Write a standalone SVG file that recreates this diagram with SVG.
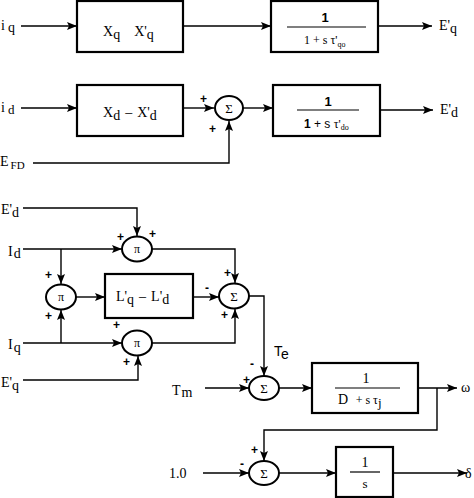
<svg xmlns="http://www.w3.org/2000/svg" width="474" height="498" viewBox="0 0 474 498">
<style>
.box{fill:#fff;stroke:#000;stroke-width:2.2}
.node{fill:#fff;stroke:#000;stroke-width:2}
.ln{fill:none;stroke:#000;stroke-width:1.4}
.fr{stroke:#000;stroke-width:1.2}
text{font-family:"Liberation Serif","Times New Roman",serif;fill:#000}
.lb{font-size:14px}
.sm{font-size:10px}
.sg text{font-size:12px;font-weight:bold;font-family:"Liberation Sans",Arial,sans-serif;fill:#000}
.sn{font-family:"Liberation Sans",Arial,sans-serif}
</style>
<defs>
<marker id="ar" viewBox="0 0 10 8" refX="10" refY="4" markerWidth="10" markerHeight="8" markerUnits="userSpaceOnUse" orient="auto">
<path d="M0,0 L10,4 L0,8 L2,4 Z" fill="#000"/>
</marker>
</defs>
<rect width="474" height="498" fill="#fff"/>

<g id="connectors">
<line class="ln" x1="21" y1="26" x2="77" y2="26" marker-end="url(#ar)"/>
<line class="ln" x1="183" y1="26" x2="271" y2="26" marker-end="url(#ar)"/>
<line class="ln" x1="378" y1="26" x2="432" y2="26" marker-end="url(#ar)"/>
<line class="ln" x1="21" y1="108" x2="77" y2="108" marker-end="url(#ar)"/>
<line class="ln" x1="183" y1="108" x2="214" y2="108" marker-end="url(#ar)"/>
<polyline class="ln" points="33,163 229,163 229,121" marker-end="url(#ar)"/>
<line class="ln" x1="243" y1="108" x2="273" y2="108" marker-end="url(#ar)"/>
<line class="ln" x1="380" y1="110" x2="433" y2="110" marker-end="url(#ar)"/>

<polyline class="ln" points="23,208 137,208 137,236" marker-end="url(#ar)"/>
<line class="ln" x1="23" y1="249" x2="122" y2="249" marker-end="url(#ar)"/>
<polyline class="ln" points="61,249 61,284" marker-end="url(#ar)"/>
<line class="ln" x1="23" y1="343" x2="122" y2="343" marker-end="url(#ar)"/>
<polyline class="ln" points="61,343 61,310" marker-end="url(#ar)"/>
<polyline class="ln" points="23,380 138,380 138,356" marker-end="url(#ar)"/>
<line class="ln" x1="76" y1="297" x2="105" y2="297" marker-end="url(#ar)"/>
<line class="ln" x1="193" y1="297" x2="219" y2="297" marker-end="url(#ar)"/>
<polyline class="ln" points="152,249 235,249 235,283" marker-end="url(#ar)"/>
<polyline class="ln" points="152,343 235,343 235,309" marker-end="url(#ar)"/>
<polyline class="ln" points="249,296 264,296 264,376" marker-end="url(#ar)"/>
<line class="ln" x1="205" y1="388" x2="249" y2="388" marker-end="url(#ar)"/>
<line class="ln" x1="278" y1="388" x2="312" y2="388" marker-end="url(#ar)"/>
<line class="ln" x1="418" y1="388" x2="457" y2="388" marker-end="url(#ar)"/>
<polyline class="ln" points="437,388 437,430 264,430 264,461" marker-end="url(#ar)"/>
<line class="ln" x1="203" y1="473" x2="249" y2="473" marker-end="url(#ar)"/>
<line class="ln" x1="278" y1="473" x2="336" y2="473" marker-end="url(#ar)"/>
<line class="ln" x1="393" y1="473" x2="467" y2="473" marker-end="url(#ar)"/>
</g>

<g id="labels">
<text class="lb" x="1" y="30">i<tspan dx="3" dy="2">q</tspan></text>
<text class="lb" x="439" y="30">E'<tspan dy="3">q</tspan></text>
<text class="lb" x="1" y="112">i<tspan dx="3" dy="2" style="font-size:13px">d</tspan></text>
<text class="lb" x="440" y="114">E'<tspan dy="3">d</tspan></text>
<text class="lb" x="0" y="166">E<tspan dx="2" dy="3" style="font-size:11px">FD</tspan></text>
<text class="lb" x="1" y="214">E'<tspan dy="3">d</tspan></text>
<text class="lb" x="8" y="256">I<tspan dx="1" dy="2">d</tspan></text>
<text class="lb" x="8" y="349">I<tspan dx="1" dy="3">q</tspan></text>
<text class="lb" x="1" y="387">E'<tspan dy="3">q</tspan></text>
<text class="lb sn" x="274" y="356">T<tspan dy="3">e</tspan></text>
<text class="lb" x="172" y="395">T<tspan dx="1" dy="2">m</tspan></text>
<text class="lb" x="169" y="478">1.0</text>
<text class="lb" x="461" y="392">ω</text>
<text class="lb" x="465" y="478">δ</text>
</g>

<g id="signs" class="sg">
<text x="200" y="103">+</text>
<text x="209" y="133">+</text>
<text x="117" y="241">+</text>
<text x="149" y="238">+</text>
<text x="45" y="279">+</text>
<text x="45" y="320">+</text>
<text x="113" y="329">+</text>
<text x="123" y="366">+</text>
<text x="224" y="277">+</text>
<text x="205" y="292">-</text>
<text x="221" y="319">+</text>
<text x="250" y="368">-</text>
<text x="243" y="384">+</text>
<text x="251" y="454">+</text>
<text x="240" y="468">-</text>
</g>

<g id="box-xq">
<rect class="box" x="77" y="1" width="106" height="51"/>
<text class="lb" x="103" y="36">X<tspan dy="3">q</tspan><tspan dx="14" dy="-3">X'</tspan><tspan dy="3">q</tspan></text>
</g>
<g id="box-tqo">
<rect class="box" x="271" y="1" width="107" height="51"/>
<text class="sn" x="325" y="22" font-size="13" text-anchor="middle" font-weight="bold">1</text>
<line class="fr" x1="287" y1="27" x2="366" y2="27"/>
<text class="lb" x="304" y="44" style="font-size:12px">1 + s τ'<tspan dy="3" style="font-size:8px">qo</tspan></text>
</g>
<g id="box-xd">
<rect class="box" x="77" y="85" width="106" height="51"/>
<text class="lb" x="103" y="117">X<tspan dy="3">d</tspan><tspan dx="5" dy="-3">–</tspan><tspan dx="5">X'</tspan><tspan dy="3">d</tspan></text>
</g>
<g id="sum-1">
<ellipse class="node" cx="229" cy="108" rx="14" ry="12"/>
<text x="229" y="113" font-size="13" text-anchor="middle">Σ</text>
</g>
<g id="box-tdo">
<rect class="box" x="273" y="85" width="107" height="51"/>
<text class="sn" x="328" y="106" font-size="13" text-anchor="middle" font-weight="bold">1</text>
<line class="fr" x1="297" y1="110" x2="359" y2="110"/>
<text class="sn" x="304" y="128" font-size="12"><tspan font-weight="bold">1</tspan> + s <tspan font-family="Liberation Serif">τ'</tspan><tspan dy="2" font-size="8" font-family="Liberation Serif">do</tspan></text>
</g>

<g id="pi-top">
<ellipse class="node" cx="137" cy="249" rx="15" ry="12.5"/>
<text x="137" y="253" font-size="12" text-anchor="middle">π</text>
</g>
<g id="pi-left">
<ellipse class="node" cx="61" cy="297" rx="15" ry="12.5"/>
<text x="61" y="301" font-size="12" text-anchor="middle">π</text>
</g>
<g id="pi-bottom">
<ellipse class="node" cx="137" cy="343" rx="15" ry="12.5"/>
<text x="137" y="347" font-size="12" text-anchor="middle">π</text>
</g>
<g id="box-lq-ld">
<rect class="box" x="105" y="274" width="88" height="44"/>
<text class="lb" x="116" y="301">L'<tspan dy="3">q</tspan><tspan dx="5" dy="-3">–</tspan><tspan dx="5">L'</tspan><tspan dy="3">d</tspan></text>
</g>
<g id="sum-te">
<ellipse class="node" cx="234" cy="296" rx="15" ry="12.5"/>
<text x="234" y="301" font-size="13" text-anchor="middle">Σ</text>
</g>
<g id="sum-w">
<ellipse class="node" cx="264" cy="388" rx="15" ry="12"/>
<text x="264" y="393" font-size="13" text-anchor="middle">Σ</text>
</g>
<g id="box-w">
<rect class="box" x="312" y="363" width="106" height="50"/>
<text x="366" y="383" font-size="14" text-anchor="middle">1</text>
<line class="fr" x1="335" y1="388" x2="400" y2="388"/>
<text class="lb" x="338" y="404">D <tspan dx="4" font-size="12">+ s τ</tspan><tspan dy="3" font-size="13">j</tspan></text>
</g>
<g id="sum-d">
<ellipse class="node" cx="264" cy="473" rx="15" ry="12"/>
<text x="264" y="478" font-size="13" text-anchor="middle">Σ</text>
</g>
<g id="box-s">
<rect class="box" x="336" y="447" width="57" height="50"/>
<text x="365" y="467" font-size="14" text-anchor="middle">1</text>
<line class="fr" x1="350" y1="472" x2="380" y2="472"/>
<text x="365" y="488" font-size="13" text-anchor="middle">s</text>
</g>
</svg>
